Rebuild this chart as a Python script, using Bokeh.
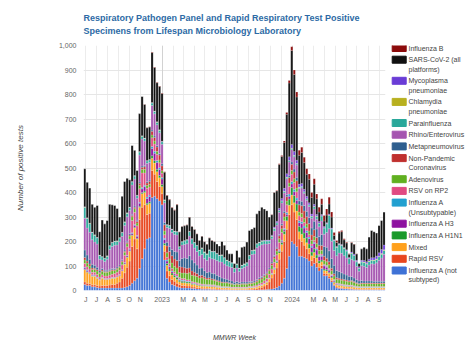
import pandas as pd
from bokeh.plotting import figure
from bokeh.models import ColumnDataSource, Range1d, FixedTicker, NumeralTickFormatter, Title, Grid
from bokeh.layouts import row
from bokeh.embed import file_html
from bokeh.resources import INLINE
from bokeh.core.properties import value

# MMWR weeks (week start dates)
weeks = pd.date_range("2022-05-29", periods=121, freq="7D")

flu_a_nst = [25,20,20,15,15,12,10,10,10,10,10,10,10,10,10,
 10,12,15,20,30,40,50,90,130,170,210,215,380,385,375,365,350,
 125,50,35,25,20,15,12,10,10,10,10,8,8,6,6,5,5,5,5,4,4,
 3,3,3,3,3,2,2,2,2,2,2,2,2,2,
 2,2,2,3,3,3,4,5,6,8,12,18,30,50,90,140,
 200,190,180,140,140,135,130,120,100,110,95,80,90,60,60,50,35,20,
 10,8,8,6,6,5,5,4,4,3,3,3,3,3,3,3,3,3,3,3]
rapid_rsv = [10,10,8,8,8,8,8,10,10,10,12,15,15,20,25,
 40,60,80,100,150,170,120,200,210,180,100,100,110,90,70,60,45,
 35,30,25,20,18,15,12,10,10,8,8,6,6,5,5,4,4,4,3,3,3,
 3,3,2,2,2,2,2,2,2,2,2,2,2,3,
 3,4,5,8,10,15,20,30,45,60,80,110,130,150,160,170,
 150,130,110,70,60,50,40,30,22,25,20,15,12,10,8,8,6,5,
 4,4,3,3,3,3,3,2,2,2,2,2,2,2,2,2,2,2,2,2]
mixed = [50,45,40,35,35,30,25,30,25,25,25,25,25,25,25,
 30,35,40,40,45,45,40,50,55,50,40,40,50,45,40,35,30,
 25,22,20,18,16,15,12,12,12,12,12,10,10,10,8,8,8,8,8,8,8,
 7,7,6,6,6,6,5,5,5,5,5,5,5,6,
 6,6,7,8,8,9,10,12,14,18,20,25,28,30,35,38,
 40,38,35,30,30,28,25,22,20,20,18,16,15,12,12,12,10,8,
 8,8,8,8,7,7,7,7,6,6,6,6,6,6,6,6,6,6,6,6]
flu_a_h1n1 = [2,2,2,1,1,1,1,1,1,1,1,1,1,1,1,
 1,1,2,2,2,3,3,4,5,6,6,7,10,10,10,9,8,
 8,8,8,8,8,8,6,6,6,5,5,5,4,4,3,3,3,2,2,2,2,
 2,1,1,1,1,1,1,1,1,1,1,1,1,1,
 1,1,1,1,1,1,1,2,2,3,4,6,8,12,18,25,
 30,30,28,22,25,22,20,18,15,15,12,10,8,6,5,5,4,3,
 2,2,2,2,2,2,2,2,1,1,1,1,1,1,1,1,1,1,1,1]
flu_a_h3 = [5,5,4,3,3,2,2,2,2,2,2,2,2,3,3,
 3,4,5,6,6,8,8,12,15,18,20,22,30,30,28,25,22,
 15,10,8,6,5,4,3,3,3,2,2,2,2,2,2,2,2,2,2,2,2,
 1,1,1,1,1,1,1,1,1,1,1,1,1,1,
 1,1,1,1,1,1,1,1,2,2,3,4,5,6,8,12,
 15,15,15,15,18,20,22,22,20,22,20,18,15,12,10,8,6,4,
 3,3,2,2,2,2,2,1,1,1,1,1,1,1,1,1,1,1,1,1]
flu_a_unsub = [3,3,2,2,2,2,1,1,1,1,1,1,1,1,1,
 1,2,2,2,3,3,3,4,5,6,6,6,8,8,8,7,6,
 5,4,3,3,2,2,2,2,2,2,2,1,1,1,1,1,1,1,1,1,1,
 1,1,1,1,1,1,1,1,1,1,1,1,1,1,
 1,1,1,1,1,1,1,1,1,2,2,3,4,5,7,9,
 10,10,10,8,8,8,7,6,5,5,5,4,4,3,3,3,2,2,
 1,1,1,1,1,1,1,1,1,1,1,1,1,1,1,1,1,1,1,1]
rsv_rp2 = [15,12,12,10,10,10,8,10,10,10,12,12,15,15,18,
 20,30,35,40,50,50,40,55,60,50,35,32,35,30,25,20,18,
 15,12,10,10,8,8,6,6,6,5,5,5,4,4,4,4,3,3,3,3,3,
 3,3,2,2,2,2,2,2,2,2,2,2,2,3,
 3,4,5,6,8,10,12,15,18,22,25,30,32,32,32,30,
 30,28,25,20,18,15,12,10,8,8,6,5,5,4,4,4,3,3,
 3,3,3,3,2,2,2,2,2,2,2,2,2,2,2,2,2,2,2,2]
adenovirus = [15,15,12,12,12,15,15,15,15,15,15,15,12,12,12,
 12,12,12,12,15,15,12,15,15,15,12,12,12,12,12,12,10,
 15,18,20,22,22,25,20,22,22,25,28,25,25,25,22,25,22,20,22,20,18,
 18,16,16,15,15,14,12,10,12,10,12,12,12,12,
 12,12,14,15,15,15,15,15,15,15,15,15,15,15,15,15,
 15,15,15,15,15,15,15,15,15,15,15,15,15,15,15,15,15,15,
 15,15,15,15,15,14,15,14,12,10,12,12,12,12,12,12,12,12,12,12]
np_coronavirus = [10,8,8,6,5,5,5,5,4,4,4,4,4,4,4,
 4,4,5,5,5,6,6,8,8,10,10,12,15,15,18,20,20,
 25,28,30,30,30,30,25,25,22,22,20,18,15,12,10,10,8,6,6,5,5,
 4,4,3,3,3,3,3,2,3,3,3,3,3,3,
 3,3,4,4,5,5,6,6,8,8,10,12,14,16,18,22,
 25,28,30,30,32,32,30,30,22,28,25,22,20,18,15,12,10,8,
 6,6,5,5,5,4,4,4,3,3,3,3,3,3,3,3,3,3,3,3]
metapneumovirus = [30,25,20,15,12,10,8,6,5,5,5,5,5,5,5,
 5,5,5,5,5,5,5,5,5,5,5,5,5,6,6,6,8,
 10,15,20,25,30,35,25,35,40,40,50,45,38,35,30,30,25,22,24,22,22,
 20,18,16,14,12,10,10,8,8,6,6,6,6,5,
 5,5,5,5,5,5,5,5,5,5,6,6,6,7,8,9,
 10,12,14,16,18,22,22,25,28,35,35,35,45,40,45,45,40,35,
 30,28,25,22,20,18,16,14,12,10,10,8,8,8,8,7,7,7,7,7]
rhino_entero = [130,110,110,100,95,95,45,35,35,45,80,90,95,90,95,
 95,100,100,95,120,110,90,110,110,100,75,72,100,90,85,85,80,
 80,60,75,70,70,70,45,55,55,60,80,65,60,55,50,55,50,50,60,60,60,
 60,60,65,60,55,55,55,40,55,45,55,60,65,90,
 110,110,130,130,130,125,115,100,95,100,90,90,85,75,65,55,
 50,50,50,50,55,50,45,45,40,50,40,40,55,50,60,90,70,60,
 60,75,80,75,70,50,70,70,55,40,60,60,55,65,70,70,75,85,95,110]
parainfluenza = [45,40,35,30,28,25,15,12,12,12,15,15,15,15,15,
 15,14,14,12,12,12,10,12,12,10,10,10,10,10,10,10,10,
 10,10,10,12,12,12,10,12,14,15,18,20,22,24,22,25,25,25,28,28,30,
 28,26,28,25,22,20,18,15,15,12,12,12,12,15,
 15,15,15,14,14,12,12,10,10,10,9,8,8,6,6,5,
 5,5,5,5,5,5,6,6,8,10,12,15,20,25,35,55,50,40,
 35,35,32,30,28,22,25,22,18,12,15,15,14,14,14,14,14,15,15,15]
chlamydia = [1,1,1,1,1,1,1,1,1,1,1,1,1,1,1,
 1,1,1,1,1,1,1,1,1,1,1,1,1,1,1,1,1,
 1,1,1,1,1,1,1,1,1,1,1,1,1,1,1,1,1,1,1,1,1,
 1,1,1,1,1,1,1,1,1,1,1,1,1,1,
 1,1,1,1,1,1,1,1,1,1,1,1,1,1,1,1,
 1,1,1,1,1,1,1,1,1,1,1,1,1,1,1,1,1,1,
 1,1,1,1,1,1,1,1,1,1,1,2,2,2,2,2,2,2,3,3]
mycoplasma = [1,1,1,1,1,1,1,1,1,1,1,1,1,1,1,
 1,1,1,1,1,1,1,1,1,1,1,1,1,1,1,1,1,
 1,1,1,1,1,1,1,1,1,1,1,1,1,1,1,1,1,1,1,1,1,
 1,1,1,1,1,1,1,1,1,1,1,1,1,1,
 1,1,1,1,2,2,3,3,4,5,6,8,10,12,14,15,
 15,15,14,12,12,10,10,8,8,8,6,6,5,5,4,4,3,3,
 3,3,3,3,4,4,4,5,5,5,6,6,7,8,9,10,12,14,16,20]
sars_cov_2 = [155,145,143,113,112,130,95,149,140,144,168,153,145,132,84,
 147,164,141,111,147,103,101,155,160,137,133,132,204,177,159,177,195,
 113,119,104,87,85,109,59,61,60,59,57,49,52,46,39,47,41,39,48,44,39,
 38,37,54,50,40,31,36,19,54,44,73,71,84,101,
 87,91,121,128,136,128,120,94,83,141,123,178,171,187,242,301,
 384,315,258,118,126,109,90,96,68,82,64,38,42,23,31,41,45,18,
 15,43,52,31,28,13,38,40,26,13,47,55,53,90,111,106,94,111,119,134]
flu_b = [0,0,0,0,0,0,0,0,0,0,0,0,0,0,0,
 0,0,0,0,0,0,0,0,0,1,1,1,2,2,2,2,2,
 2,2,2,2,2,2,1,1,1,1,1,1,1,1,1,1,1,1,1,1,1,
 0,0,0,0,0,0,0,0,0,0,0,0,0,0,
 0,0,0,0,0,0,0,0,1,1,2,3,4,6,8,10,
 15,18,20,20,22,22,22,22,20,22,20,20,22,22,25,28,20,12,
 8,6,5,4,3,2,2,1,1,0,0,0,0,0,0,0,0,0,0,0]

# stack order: bottom -> top
series_keys = ["flu_a_nst", "rapid_rsv", "mixed", "flu_a_h1n1", "flu_a_h3", "flu_a_unsub",
               "rsv_rp2", "adenovirus", "np_coronavirus", "metapneumovirus", "rhino_entero",
               "parainfluenza", "chlamydia", "mycoplasma", "sars_cov_2", "flu_b"]
series_values = [flu_a_nst, rapid_rsv, mixed, flu_a_h1n1, flu_a_h3, flu_a_unsub,
                 rsv_rp2, adenovirus, np_coronavirus, metapneumovirus, rhino_entero,
                 parainfluenza, chlamydia, mycoplasma, sars_cov_2, flu_b]
series_colors = ["#3f72d6", "#e8461e", "#ffa01c", "#1a9a2a", "#8e12a0", "#22a0d0",
                 "#e04a82", "#60b020", "#c0302e", "#2f5f8f", "#a555b0",
                 "#2aa89a", "#b8b01f", "#6a3cd6", "#111111", "#8c0b0b"]
legend_lines = [["Influenza A (not", "subtyped)"], ["Rapid RSV"], ["Mixed"], ["Influenza A H1N1"],
                ["Influenza A H3"], ["Influenza A", "(Unsubtypable)"], ["RSV on RP2"], ["Adenovirus"],
                ["Non-Pandemic", "Coronavirus"], ["Metapneumovirus"], ["Rhino/Enterovirus"],
                ["Parainfluenza"], ["Chlamydia", "pneumoniae"], ["Mycoplasma", "pneumoniae"],
                ["SARS-CoV-2 (all", "platforms)"], ["Influenza B"]]
title_lines = ["Respiratory Pathogen Panel and Rapid Respiratory Test Positive",
               "Specimens from Lifespan Microbiology Laboratory"]

month_ticks = pd.date_range("2022-06-01", "2024-09-01", freq="MS")
tick_labels = ["J", "J", "A", "S", "O", "N", "", "2023", "", "M", "A", "M", "J", "J", "A", "S",
               "O", "N", "", "2024", "", "M", "A", "M", "J", "J", "A", "S"]
year_ticks = pd.to_datetime(["2023-01-01", "2024-01-01"])

for v in series_values:
    assert len(v) == len(weeks)

data = {"week": weeks}
for k, v in zip(series_keys, series_values):
    data[k] = v
source = ColumnDataSource(data)

FONT = "Liberation Sans"
week_ms = 7 * 24 * 3600 * 1000

p = figure(width=388, height=345, x_axis_type="datetime", output_backend="svg",
           toolbar_location=None,
           x_range=Range1d(weeks[0] - pd.Timedelta(hours=84), weeks[-1] + pd.Timedelta(hours=96)),
           y_range=Range1d(0, 1000),
           min_border_left=83, min_border_right=3, min_border_top=45, min_border_bottom=55)
p.title = None
p.add_layout(Title(text="\n".join(title_lines), align="left",
                   text_font=FONT, text_font_size="9px", text_font_style="bold",
                   text_line_height=1.33, text_color="#2d6aa5", standoff=18), "above")

p.vbar_stack(series_keys, x="week", width=0.84 * week_ms, source=source, color=series_colors,
             line_color="white", line_width=0.3, line_alpha=0.6)

tick_ms = [int(t.timestamp() * 1000) for t in month_ticks]
p.xaxis.ticker = FixedTicker(ticks=tick_ms)
p.xaxis.major_label_overrides = {t: lab for t, lab in zip(tick_ms, tick_labels)}
p.yaxis.ticker = FixedTicker(ticks=list(range(0, 1001, 100)))
p.yaxis.formatter = NumeralTickFormatter(format="0,0")

for ax in (p.xaxis[0], p.yaxis[0]):
    ax.axis_line_color = None
    ax.major_tick_line_color = None
    ax.minor_tick_line_color = None
    ax.major_tick_in = 0
    ax.major_tick_out = 0
    ax.minor_tick_out = 0
    ax.major_label_text_font = FONT
    ax.major_label_text_font_size = "7px"
    ax.major_label_text_color = "#666666"
    ax.axis_label_text_font = FONT
    ax.axis_label_text_font_size = "7px"
    ax.axis_label_text_font_style = "italic"
    ax.axis_label_text_color = "#444444"

p.yaxis.major_label_standoff = 7
p.yaxis.axis_label = "Number of positive tests"
p.yaxis.axis_label_text_font_size = "8px"
p.yaxis.axis_label_standoff = 31
p.xaxis.major_label_standoff = 5
p.xaxis.axis_label = "MMWR Week"
p.xaxis.axis_label_standoff = 28

p.xgrid.grid_line_color = "#ececec"
p.ygrid.grid_line_color = "#e6e6e6"
p.add_layout(Grid(dimension=0, ticker=FixedTicker(ticks=[int(t.timestamp() * 1000) for t in year_ticks]),
                  grid_line_color="#d2d2d2"))
p.outline_line_color = None
p.background_fill_color = "white"
p.border_fill_color = "white"

# legend panel (its frame is aligned with the main frame; ranges map to page pixels)
lg = figure(width=86, height=345, x_range=Range1d(388, 474), y_range=Range1d(290, 45),
            output_backend="svg", toolbar_location=None,
            min_border_left=0, min_border_right=0, min_border_top=45, min_border_bottom=55,
            x_axis_location=None, y_axis_location=None)
lg.grid.visible = False
lg.outline_line_color = None
lg.title = None
sw_x, sw_y, sw_c = [], [], []
tx, ty, tt = [], [], []
y = 47.5
for lines, col in zip(reversed(legend_lines), reversed(series_colors)):
    sw_x.append(398.7)
    sw_y.append(y)
    sw_c.append(col)
    for k, ln in enumerate(lines):
        tx.append(408)
        ty.append(y + 9.4 * k)
        tt.append(ln)
    y += 11.7 + 9.4 * (len(lines) - 1)
lg.rect(x=sw_x, y=sw_y, width=14, height=7, color=sw_c)
lg.text(x=tx, y=ty, text=tt, text_font=value(FONT), text_font_size="7px",
        text_baseline="middle", text_align="left", text_color="#444444")

layout = row(p, lg)
open("out.html", "w").write(file_html(layout, INLINE))
